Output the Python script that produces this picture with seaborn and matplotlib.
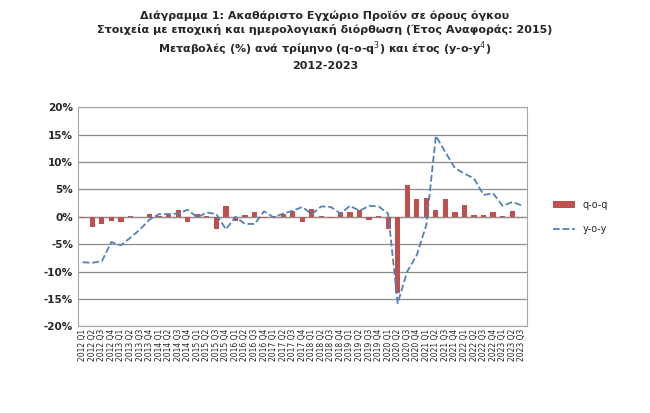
import matplotlib
matplotlib.use("Agg")
import matplotlib.pyplot as plt
import seaborn as sns
import numpy as np
import pandas as pd
from matplotlib.ticker import FuncFormatter, MultipleLocator

years = list(range(2012, 2024))
quarters = [f"{y} Q{q}" for y in years for q in range(1, 5)][:47]
qoq = [-0.3, -1.8, -1.4, -0.8, -0.9, 0.1, 0.0, 0.6, 0.2, 0.3, 1.3, -0.9,
       0.5, 0.1, -2.2, 1.9, -0.8, 0.3, 0.8, -0.2, 0.2, 0.5, 1.0, -0.9,
       1.5, 0.2, -0.2, 0.9, 0.8, 1.2, -0.5, 0.2, -2.2, -14.0, 5.8, 3.3,
       3.5, 1.3, 3.2, 0.8, 2.2, 0.3, 0.3, 0.9, 0.1, 1.1, 0.0]
yoy = [-8.3, -8.4, -8.1, -4.6, -5.2, -3.8, -2.3, -0.5, 0.5, 0.5, 0.6, 1.3,
       -0.1, 0.8, 0.5, -2.3, 0.0, -1.3, -1.3, 1.0, -0.1, 0.6, 1.1, 1.8,
       0.5, 1.9, 1.8, 0.6, 2.0, 1.1, 2.0, 1.9, 0.6, -15.8, -10.0, -7.0,
       -1.5, 14.8, 11.8, 8.9, 7.9, 7.0, 4.0, 4.3, 2.0, 2.7, 2.1]

df = pd.DataFrame({"q": quarters, "qoq": qoq, "yoy": yoy})
sns.set_style("white")
plt.rcParams['font.family'] = ['DejaVu Sans']
fig = plt.figure(figsize=(6.5, 4.13), dpi=100)
ax = fig.add_axes([0.12, 0.21, 0.69, 0.53])
ax.set_axisbelow(True)
sns.barplot(data=df, x="q", y="qoq", color="#c0504d", width=0.55, ax=ax,
            label="q-o-q", saturation=1, linewidth=0, zorder=3)
ax.plot(np.arange(len(quarters)), yoy, ls="--", color="#4f81bd", lw=1.3,
        label="y-o-y", zorder=4)
ax.set_ylim(-20, 20)
ax.set_xlim(-0.5, len(quarters) - 0.5)
ax.yaxis.set_major_locator(MultipleLocator(5))
ax.yaxis.set_major_formatter(FuncFormatter(lambda v, p: f"{v:.0f}%"))
ax.grid(axis="y", color="#8c8c8c", lw=0.9, zorder=0)
ax.axhline(0, color="#8c8c8c", lw=0.9, zorder=1)
ax.set_xlabel(""); ax.set_ylabel("")
ax.tick_params(axis="x", labelrotation=90, labelsize=5.5, length=0, pad=2)
ax.tick_params(axis="y", labelsize=7.5, length=0)
for lab in ax.get_yticklabels():
    lab.set_fontweight("bold")
for s in ax.spines.values():
    s.set_color("#a6a6a6")
h, l = ax.get_legend_handles_labels()
order = [l.index("q-o-q"), l.index("y-o-y")]
ax.legend([h[i] for i in order], [l[i] for i in order],
          loc="center left", bbox_to_anchor=(1.04, 0.5), frameon=False,
          fontsize=7, handlelength=2.2, labelspacing=1.5)
fig.text(0.5, 0.975, "Διάγραμμα 1: Ακαθάριστο Εγχώριο Προϊόν σε όρους όγκου\n"
         "Στοιχεία με εποχική και ημερολογιακή διόρθωση (Έτος Αναφοράς: 2015)\n"
         "Μεταβολές (%) ανά τρίμηνο (q-o-q$^3$) και έτος (y-o-y$^4$)\n2012-2023",
         ha="center", va="top", fontsize=8, fontweight="bold", linespacing=1.35)
fig.savefig("out.png", dpi=100)
